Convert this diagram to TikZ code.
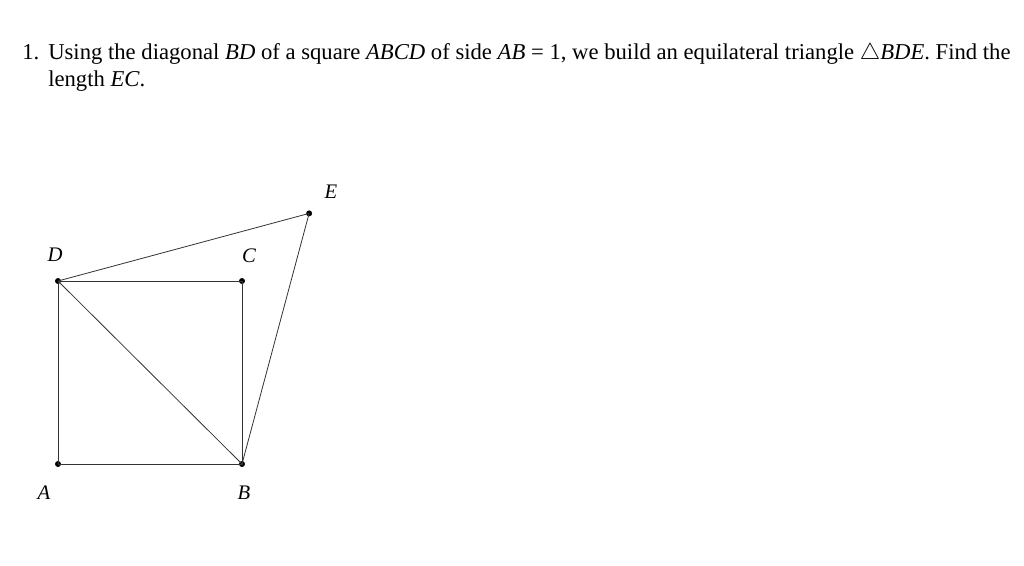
\documentclass[tikz,border=0pt]{standalone}
\usepackage{fontspec}
\setmainfont{Liberation Serif}
\usetikzlibrary{positioning}

\tikzset{
  pt/.style={circle,fill=black,inner sep=0pt,minimum size=4.5pt},
  lbl/.style={font=\fontsize{15.5}{18}\selectfont\itshape,inner sep=0pt},
  txt/.style={anchor=base west,inner sep=0pt,font=\fontsize{17}{20.25}\selectfont},
  edge/.style={line width=0.6pt,black!80}
}

\begin{document}
\begin{tikzpicture}[x=0.75pt,y=-0.75pt]
\useasboundingbox (0,0) rectangle (1024,566);
% statement
\node[txt] (num) at (22,60) {1.};
\node[txt] (stmt) at (48,60)
  {Using the diagonal \textit{BD} of a square \textit{ABCD} of side \textit{AB} = 1, we build an equilateral triangle $\triangle$\textit{BDE}. Find the};
\node[txt] (stmt2) at (48,87) {length \textit{EC}.};
% points
\node[pt] (A) at (58,464) {};
\node[pt] (B) at (242,464) {};
\node[pt] (C) at (242,281) {};
\node[pt] (D) at (58,281) {};
\node[pt] (E) at (309.1,213.4) {};
% labels
\node[lbl] (lA) at (44,493) {A};
\node[lbl] (lB) at (244,493) {B};
\node[lbl] (lC) at (249,256) {C};
\node[lbl] (lD) at (55,255) {D};
\node[lbl] (lE) at (331,192) {E};
% square and triangle
\draw[edge] (A.center) -- (B.center) -- (C.center) -- (D.center) -- cycle;
\draw[edge] (D.center) -- (B.center);
\draw[edge] (D.center) -- (E.center) -- (B.center);
\end{tikzpicture}
\end{document}
